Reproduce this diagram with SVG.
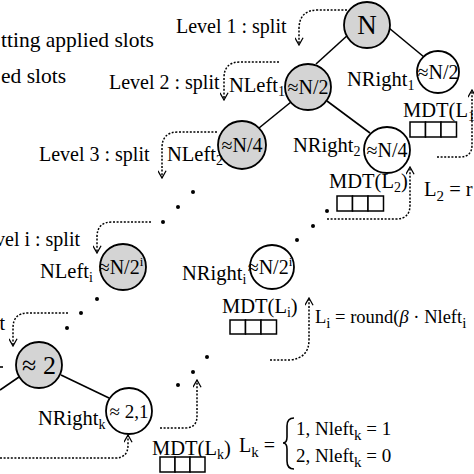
<svg xmlns="http://www.w3.org/2000/svg" width="474" height="474" viewBox="0 0 474 474">
<defs>
<style>
text{font-family:"Liberation Serif","Times New Roman",serif;fill:#000}
.t{font-size:20px}
.lb{font-size:20.5px}
.ct{font-size:20px;text-anchor:middle}
.g{fill:#d4d4d4;stroke:#000;stroke-width:1.8}
.w{fill:#fff;stroke:#000;stroke-width:1.8}
.e{stroke:#000;stroke-width:1.6;fill:none}
.d{stroke:#000;stroke-width:1.5;fill:none;stroke-dasharray:2 1.6;marker-end:url(#ah)}
.bx{fill:#fff;stroke:#000;stroke-width:1.5}
.dot{fill:#000}
</style>
<marker id="ah" viewBox="0 0 10 10" refX="9" refY="5" markerWidth="9" markerHeight="9" markerUnits="userSpaceOnUse" orient="auto">
<path d="M1,0.5 L9,5 L1,9.5" fill="none" stroke="#000" stroke-width="1.4"/>
</marker>
</defs>
<rect width="474" height="474" fill="#fff"/>

<text x="1" y="47" style="font-size:21.5px">tting applied slots</text>
<text x="1" y="83" style="font-size:21.5px">ed slots</text>

<g id="connectors">
<line class="e" x1="349" y1="34" x2="316" y2="64"/>
<line class="e" x1="389" y1="28" x2="424" y2="57"/>
<line class="e" x1="291" y1="102" x2="259" y2="128"/>
<line class="e" x1="327" y1="101" x2="370" y2="133"/>
<line class="e" x1="61" y1="375" x2="109" y2="398"/>
<line class="e" x1="19" y1="377" x2="0" y2="390"/>
<line class="e" x1="0" y1="367" x2="3" y2="367"/>
<path class="d" d="M347,10 H318 Q299,10 299,29 V45"/>
<path class="d" d="M279,62 H240 Q224,62 224,78 V100"/>
<path class="d" d="M217,132 H178 Q162,132 162,148 V178"/>
<path class="d" d="M151,222 H112 Q97,222 97,237 V253"/>
<path class="d" d="M68,313 H28 Q13,313 13,328 V346"/>
<path class="d" d="M327,219 H396 Q410,219 410,205 V167"/>
<path class="d" d="M270,360 H290 Q309,358 309,340 V298"/>
<path class="d" d="M0,458 H115 Q128,458 128,445 V435"/>
<path class="d" d="M160,428 H185 Q197,428 197,416 V380"/>
<path class="d" d="M437,157 H460 Q472,157 472,145 V90"/>
</g>

<g id="dots">
<circle class="dot" cx="193" cy="192" r="2"/>
<circle class="dot" cx="178" cy="207" r="2"/>
<circle class="dot" cx="163" cy="222" r="2"/>
<circle class="dot" cx="327" cy="211" r="2"/>
<circle class="dot" cx="313" cy="226" r="2"/>
<circle class="dot" cx="297" cy="240" r="2"/>
<circle class="dot" cx="97" cy="299" r="2"/>
<circle class="dot" cx="81" cy="313" r="2"/>
<circle class="dot" cx="67" cy="328" r="2"/>
<circle class="dot" cx="207" cy="357" r="2"/>
<circle class="dot" cx="193" cy="372" r="2"/>
<circle class="dot" cx="178" cy="385" r="2"/>
</g>

<g id="n-root">
<circle class="g" cx="367" cy="25" r="23"/>
<text x="367" y="34" style="font-size:27px;text-anchor:middle">N</text>
<text class="t" x="176" y="33">Level 1 : split</text>
</g>

<g id="n-left1">
<circle class="g" cx="308" cy="87" r="23"/>
<text class="ct" x="308" y="94">≈N/2</text>
<text class="lb" x="285" y="92" text-anchor="end">NLeft<tspan font-size="14" dy="4">1</tspan></text>
<text class="t" x="109" y="89">Level 2 : split</text>
</g>

<g id="n-right1">
<circle class="w" cx="438" cy="72" r="21"/>
<text class="ct" x="438" y="79">≈N/2</text>
<text class="lb" x="347" y="86">NRight<tspan font-size="14" dy="4">1</tspan></text>
<text class="lb" x="403" y="117">MDT(L<tspan font-size="14" dy="4">1</tspan><tspan dy="-4">)</tspan></text>
<rect class="bx" x="410" y="122" width="15.5" height="15"/>
<rect class="bx" x="425.5" y="122" width="15.5" height="15"/>
<rect class="bx" x="441" y="122" width="15.5" height="15"/>
</g>

<g id="n-left2">
<circle class="g" cx="242" cy="145" r="24"/>
<text class="ct" x="242" y="152">≈N/4</text>
<text class="lb" x="167" y="161">NLeft<tspan font-size="14" dy="4">2</tspan></text>
<text class="t" x="39" y="161">Level 3 : split</text>
</g>

<g id="n-right2">
<circle class="w" cx="387" cy="150" r="23"/>
<text class="ct" x="387" y="157">≈N/4</text>
<text class="lb" x="293" y="152">NRight<tspan font-size="14" dy="4">2</tspan></text>
<text class="lb" x="329" y="188">MDT(L<tspan font-size="14" dy="4">2</tspan><tspan dy="-4">)</tspan></text>
<rect class="bx" x="337" y="196" width="15.5" height="15"/>
<rect class="bx" x="352.5" y="196" width="15.5" height="15"/>
<rect class="bx" x="368" y="196" width="15.5" height="15"/>
<text class="lb" x="424" y="196">L<tspan font-size="15" dy="5">2</tspan><tspan dy="-5"> = r</tspan></text>
</g>

<g id="n-lefti">
<circle class="g" cx="123" cy="267" r="23"/>
<text class="ct" x="121" y="274">≈N/2<tspan font-size="13" dy="-8">i</tspan></text>
<text class="lb" x="40" y="278">NLeft<tspan font-size="14" dy="4">i</tspan></text>
<text class="t" x="80" y="246" text-anchor="end">Level i : split</text>
</g>

<g id="n-righti">
<circle class="w" cx="272" cy="267" r="22"/>
<text class="ct" x="270" y="274">≈N/2<tspan font-size="13" dy="-8">i</tspan></text>
<text class="lb" x="182" y="280">NRight<tspan font-size="14" dy="4">i</tspan></text>
<text class="lb" x="222" y="313">MDT(L<tspan font-size="14" dy="4">i</tspan><tspan dy="-4">)</tspan></text>
<rect class="bx" x="230" y="320" width="15.5" height="14"/>
<rect class="bx" x="245.5" y="320" width="15.5" height="14"/>
<rect class="bx" x="261" y="320" width="15.5" height="14"/>
<text x="315" y="323" style="font-size:18.5px">L<tspan font-size="15" dy="5">i</tspan><tspan dy="-5"> = round(</tspan><tspan font-style="italic">β</tspan> · Nleft<tspan font-size="15" dy="5">i</tspan></text>
</g>

<g id="n-leftk">
<circle class="g" cx="39" cy="365" r="23"/>
<text x="39" y="374" style="font-size:26px;text-anchor:middle">≈ 2</text>
<text class="t" x="5" y="330" text-anchor="end">Level k : split</text>
</g>

<g id="n-rightk">
<circle class="w" cx="129" cy="411" r="23"/>
<text x="129" y="418" style="font-size:19px;text-anchor:middle">≈ 2,1</text>
<text class="lb" x="38" y="425">NRight<tspan font-size="14" dy="4">k</tspan></text>
<text class="lb" x="152" y="455">MDT(L<tspan font-size="14" dy="4">k</tspan><tspan dy="-4">)</tspan></text>
<rect class="bx" x="160" y="457" width="15" height="15"/>
<rect class="bx" x="175" y="457" width="15" height="15"/>
<rect class="bx" x="190" y="457" width="15" height="15"/>
<text x="239" y="452" style="font-size:20px">L<tspan font-size="15" dy="5">k</tspan><tspan dy="-5"> =</tspan></text>
<path d="M294,418 Q287,418 287,426 V437 Q287,443 283,443 Q287,443 287,449 V461 Q287,469 294,469" fill="none" stroke="#000" stroke-width="1.6"/>
<text x="296" y="435" style="font-size:19px">1, Nleft<tspan font-size="15" dy="5">k</tspan><tspan dy="-5"> = 1</tspan></text>
<text x="296" y="462" style="font-size:19px">2, Nleft<tspan font-size="15" dy="5">k</tspan><tspan dy="-5"> = 0</tspan></text>
</g>
</svg>
